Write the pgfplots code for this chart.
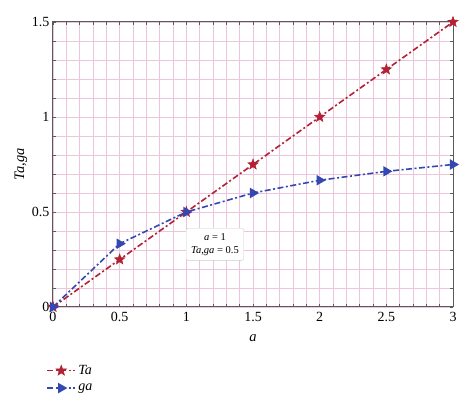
\documentclass[border=0pt]{standalone}
\usepackage{fontspec}
\setmainfont{Liberation Serif}
\usepackage{pgfplots}
\pgfplotsset{compat=1.18}
\definecolor{tared}{RGB}{178,34,52}
\definecolor{gablue}{RGB}{52,72,178}
\definecolor{gridpink}{RGB}{236,196,220}
\definecolor{axisgrey}{RGB}{90,90,90}

% filled five-point star
\pgfdeclareplotmark{fstar}{%
    \pgfpathmoveto{\pgfpointpolar{90}{\pgfplotmarksize}}%
    \pgfpathlineto{\pgfpointpolar{126}{0.42\pgfplotmarksize}}%
    \pgfpathlineto{\pgfpointpolar{162}{\pgfplotmarksize}}%
    \pgfpathlineto{\pgfpointpolar{198}{0.42\pgfplotmarksize}}%
    \pgfpathlineto{\pgfpointpolar{234}{\pgfplotmarksize}}%
    \pgfpathlineto{\pgfpointpolar{270}{0.42\pgfplotmarksize}}%
    \pgfpathlineto{\pgfpointpolar{306}{\pgfplotmarksize}}%
    \pgfpathlineto{\pgfpointpolar{342}{0.42\pgfplotmarksize}}%
    \pgfpathlineto{\pgfpointpolar{18}{\pgfplotmarksize}}%
    \pgfpathlineto{\pgfpointpolar{54}{0.42\pgfplotmarksize}}%
    \pgfpathclose
    \pgfusepathqfillstroke
}

\begin{document}
\begin{tikzpicture}
    \path[use as bounding box] (-53pt,-105pt) rectangle (421pt,307pt);
    \begin{axis}[
        at={(0pt,0pt)}, anchor=south west,
        scale only axis,
        width=400pt, height=285pt,
        xmin=0, xmax=3, ymin=0, ymax=1.5,
        xtick={0,0.5,...,3}, ytick={0,0.5,1,1.5},
        xticklabels={0,0.5,1,1.5,2,2.5,3},
        yticklabels={0,0.5,1,1.5},
        minor tick num=4,
        grid=both,
        major grid style={gridpink, line width=0.7pt},
        minor grid style={gridpink, line width=0.7pt},
        tick align=inside,
        major tick length=3pt, minor tick length=3pt,
        tick style={axisgrey, line width=0.8pt},
        axis line style={axisgrey, line width=1pt},
        ticklabel style={font=\fontsize{14}{16}\selectfont},
        xticklabel style={yshift=-2pt},
        xlabel={\textit{a}}, ylabel={\textit{Ta,ga}},
        label style={font=\fontsize{14.5}{16}\selectfont},
        xlabel style={yshift=-6pt},
        ylabel style={yshift=-2pt},
        legend style={at={(-0.025,-0.19)}, anchor=north west, draw=none, fill=none,
            font=\fontsize{14}{16}\selectfont\itshape, row sep=4pt},
        legend image code/.code={%
            \draw[mark repeat=2, mark phase=2]
                plot coordinates {(0cm,0cm) (0.5cm,0cm) (1cm,0cm)};},
        legend cell align=left,
    ]
        \addplot[tared, line width=1.6pt, dash pattern=on 6pt off 2.5pt on 2pt off 2.5pt,
            mark=fstar, mark size=5.5pt, mark options={solid, fill=tared, line width=0.5pt}]
            coordinates {(0,0) (0.5,0.25) (1,0.5) (1.5,0.75) (2,1) (2.5,1.25) (3,1.5)};
        \addlegendentry{Ta}
        \addplot[gablue, line width=1.6pt, dash pattern=on 6pt off 2.5pt on 2pt off 2.5pt,
            mark=triangle*, mark size=4.5pt, mark options={solid, fill=gablue, rotate=-90}]
            coordinates {(0,0) (0.5,0.333) (1,0.5) (1.5,0.6) (2,0.667) (2.5,0.714) (3,0.75)};
        \addlegendentry{ga}
        \draw[black, line width=0.6pt, fill=white] (axis cs:1,0.5) circle (2.5pt);
        \node[draw=gray!40, fill=white, rounded corners=1.5pt, align=center,
            font=\fontsize{10.5}{13}\selectfont, inner sep=5pt]
            at (axis cs:1.215,0.33) {\textit{a} = 1\\\textit{Ta,ga} = 0.5};
    \end{axis}
\end{tikzpicture}
\end{document}
